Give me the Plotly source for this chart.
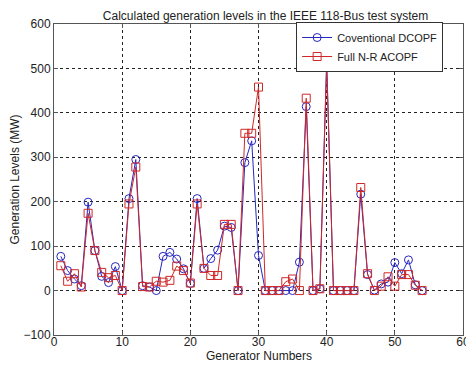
import plotly.graph_objects as go

generators = list(range(1, 55))
dcopf = [77, 45, 26, 11, 199, 90, 32, 18, 54, 0,
         207, 295, 11, 8, 0, 77, 86, 71, 49, 16,
         207, 50, 72, 91, 145, 142, 0, 288, 337, 79,
         0, 0, 0, 0, 0, 64, 414, 0, 4, 517,
         0, 0, 0, 0, 217, 36, 1, 15, 19, 63,
         38, 69, 13, 0]
acopf = [56, 21, 38, 8, 174, 90, 41, 29, 34, 0,
         195, 278, 9, 8, 21, 19, 23, 55, 45, 17,
         195, 50, 34, 34, 149, 149, 0, 354, 354, 458,
         0, 0, 0, 20, 26, 0, 433, 0, 4, 505,
         0, 0, 0, 0, 232, 38, 0, 10, 31, 10,
         36, 36, 12, 0]
x_ticks = [0, 10, 20, 30, 40, 50, 60]
y_ticks = [-100, 0, 100, 200, 300, 400, 500, 600]

FONT = "Liberation Sans, Arial, sans-serif"
BLUE = "#2626c0"
RED = "#d02828"
TXT = "#222222"

fig = go.Figure()
fig.add_trace(go.Scatter(
    x=generators, y=dcopf, mode="lines+markers", name="Coventional DCOPF",
    line=dict(color=BLUE, width=1),
    marker=dict(symbol="circle-open", size=8, color=BLUE, line=dict(width=1, color=BLUE)),
))
fig.add_trace(go.Scatter(
    x=generators, y=acopf, mode="lines+markers", name="Full N-R ACOPF",
    line=dict(color=RED, width=1),
    marker=dict(symbol="square-open", size=8, color=RED, line=dict(width=1, color=RED)),
))

axis_common = dict(
    showline=True, linecolor="#555555", linewidth=1, mirror="ticks",
    ticks="inside", ticklen=4, tickcolor="#555555",
    showgrid=True, gridcolor="#222222", griddash="dot", gridwidth=1,
    zeroline=False, tickfont=dict(family=FONT, size=12, color=TXT),
    automargin=False,
)

fig.update_xaxes(range=[0, 60], tickvals=x_ticks, ticklabelstandoff=-4, **axis_common)
fig.update_yaxes(range=[-100, 600], tickvals=y_ticks,
                 title=dict(text="Generation Levels (MW)", font=dict(family=FONT, size=12, color=TXT), standoff=7),
                 **axis_common)

fig.add_annotation(text="Generator Numbers", xref="paper", yref="paper",
                   x=0.5, y=0, xanchor="center", yanchor="top", yshift=-13,
                   borderpad=0, showarrow=False, font=dict(family=FONT, size=12, color=TXT))

# the page body has an 8px margin, so the figure is offset by 8px
fig.update_layout(
    width=464, height=356,
    margin=dict(l=46, r=9, t=16, b=29, autoexpand=False),
    paper_bgcolor="white", plot_bgcolor="white",
    title=dict(text="Calculated generation levels in the IEEE 118-Bus test system",
               font=dict(family=FONT, size=12, color=TXT),
               x=0.555, xanchor="center", y=0.979, yanchor="middle", pad=dict(t=0, b=0)),
    legend=dict(x=0.592, y=1.0064, xanchor="left", yanchor="top",
                bordercolor="#333333", borderwidth=1, bgcolor="white",
                font=dict(family=FONT, size=11, color=TXT),
                tracegroupgap=0, itemwidth=30),
    showlegend=True,
)

fig.write_html("out.html")
